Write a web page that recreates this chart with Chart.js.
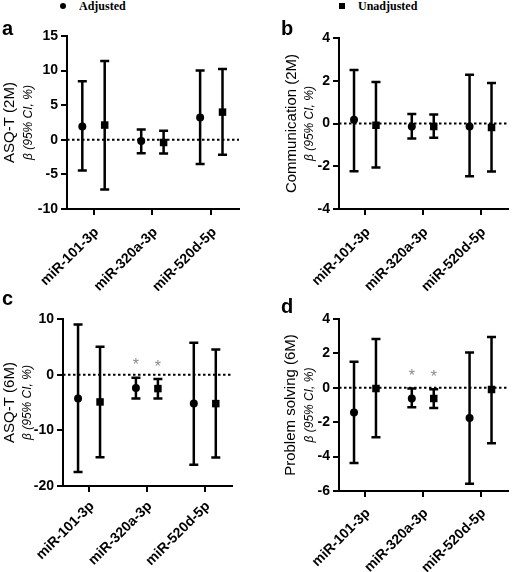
<html>
<head>
<script src="https://cdn.jsdelivr.net/npm/chart.js@4"></script>
<style>
  body { margin: 0; background: #fff; width: 513px; height: 572px; position: relative; overflow: hidden; }
  canvas { position: absolute; }
  .lab { position: absolute; font: bold 20px "Liberation Sans", Arial, sans-serif; line-height: 20px; }
  .leg { position: absolute; top: 0; font: bold 12px "Liberation Serif", "Times New Roman", serif; line-height: 12px; }
  .dot { position: absolute; width: 6px; height: 6px; background: #000; }
</style>
</head>
<body>
<div class="dot" style="left:60px;top:3px;border-radius:50%"></div>
<div class="leg" style="left:79px">Adjusted</div>
<div class="dot" style="left:339px;top:3px"></div>
<div class="leg" style="left:358px">Unadjusted</div>

<canvas id="pa" width="256" height="300" style="left:0;top:0"></canvas>
<canvas id="pb" width="257" height="300" style="left:256px;top:0"></canvas>
<canvas id="pc" width="256" height="282" style="left:0;top:290px"></canvas>
<canvas id="pd" width="257" height="282" style="left:256px;top:290px"></canvas>

<div class="lab" style="left:2px;top:18px">a</div>
<div class="lab" style="left:281px;top:18px">b</div>
<div class="lab" style="left:2px;top:288px">c</div>
<div class="lab" style="left:281px;top:296px">d</div>

<script>
// categories shared by all four panels
var categories = ['miR-101-3p', 'miR-320a-3p', 'miR-520d-5p'];

// a: ASQ-T (2M)
var aAdj = [1.93, -0.19, 3.24];
var aAdjLo = [-4.44, -1.93, -3.48];
var aAdjHi = [8.45, 1.5, 10.0];
var aUn = [2.13, -0.39, 4.0];
var aUnLo = [-7.2, -1.98, -2.17];
var aUnHi = [11.4, 1.3, 10.24];

// b: Communication (2M)
var bAdj = [0.17, -0.14, -0.14];
var bAdjLo = [-2.23, -0.7, -2.47];
var bAdjHi = [2.5, 0.45, 2.28];
var bUn = [-0.08, -0.14, -0.19];
var bUnLo = [-2.06, -0.67, -2.25];
var bUnHi = [1.94, 0.42, 1.89];

// c: ASQ-T (6M)
var cAdj = [-4.3, -2.4, -5.2];
var cAdjLo = [-17.5, -4.3, -16.2];
var cAdjHi = [9.0, -0.55, 5.75];
var cUn = [-4.9, -2.5, -5.2];
var cUnLo = [-14.85, -4.3, -14.9];
var cUnHi = [5.0, -0.8, 4.5];

// d: Problem solving (6M)
var dAdj = [-1.44, -0.62, -1.76];
var dAdjLo = [-4.37, -1.13, -5.58];
var dAdjHi = [1.52, -0.04, 2.05];
var dUn = [-0.04, -0.62, -0.1];
var dUnLo = [-2.87, -1.17, -3.22];
var dUnHi = [2.83, -0.08, 2.95];

// significant categories (marked with *)
var cStars = [false, true, false];
var dStars = [false, true, false];

var FONT = '"Liberation Sans", Arial, sans-serif';
Chart.defaults.font.family = FONT;
Chart.defaults.color = '#000';

var errorBars = {
  id: 'errorBars',
  beforeDatasetsDraw: function (chart) {
    var ctx = chart.ctx, area = chart.chartArea, x = chart.scales.x, y = chart.scales.y;
    ctx.save();
    ctx.strokeStyle = '#000';
    // dotted zero line
    var y0 = y.getPixelForValue(0);
    ctx.lineWidth = 2;
    ctx.setLineDash([2.5, 2.5]);
    ctx.beginPath();
    ctx.moveTo(area.left, y0);
    ctx.lineTo(area.right, y0);
    ctx.stroke();
    ctx.setLineDash([]);
    ctx.lineWidth = 2.5;
    chart.data.datasets.forEach(function (ds) {
      ds.data.forEach(function (p) {
        var px = x.getPixelForValue(p.x);
        var lo = y.getPixelForValue(p.lo), hi = y.getPixelForValue(p.hi);
        ctx.beginPath();
        ctx.moveTo(px, lo); ctx.lineTo(px, hi);
        ctx.moveTo(px - 4.5, lo); ctx.lineTo(px + 4.5, lo);
        ctx.moveTo(px - 4.5, hi); ctx.lineTo(px + 4.5, hi);
        ctx.stroke();
        if (p.star) {
          ctx.fillStyle = '#8a8a8a';
          ctx.font = '16px ' + FONT;
          ctx.textAlign = 'center';
          ctx.textBaseline = 'middle';
          ctx.fillText('*', px, hi - 12);
        }
      });
    });
    ctx.restore();
  },
  afterDraw: function (chart, args, opts) {
    var ctx = chart.ctx, area = chart.chartArea;
    var cy = (area.top + area.bottom) / 2;
    ctx.save();
    ctx.fillStyle = '#000';
    ctx.textAlign = 'center';
    ctx.textBaseline = 'middle';
    ctx.translate(opts.x1, cy);
    ctx.rotate(-Math.PI / 2);
    ctx.font = '15px ' + FONT;
    ctx.fillText(opts.title, 0, 0);
    ctx.restore();
    ctx.save();
    ctx.fillStyle = '#000';
    ctx.textAlign = 'center';
    ctx.textBaseline = 'middle';
    ctx.translate(opts.x2, cy);
    ctx.rotate(-Math.PI / 2);
    ctx.font = 'italic 12px ' + FONT;
    ctx.fillText('\u03B2 (95% CI, %)', 0, 0);
    ctx.restore();
  }
};

function points(vals, lo, hi, shift, stars) {
  return vals.map(function (v, i) {
    return { x: i + 1 + shift, y: v, lo: lo[i], hi: hi[i], star: stars ? stars[i] : false };
  });
}

function makePanel(id, p) {
  var ctx = document.getElementById(id).getContext('2d');
  return new Chart(ctx, {
    type: 'scatter',
    data: {
      datasets: [
        { label: 'Adjusted', data: points(p.adj, p.adjLo, p.adjHi, -0.19, p.stars),
          pointStyle: 'circle', pointRadius: 4, backgroundColor: '#000', borderColor: '#000', borderWidth: 0 },
        { label: 'Unadjusted', data: points(p.un, p.unLo, p.unHi, 0.19, p.stars),
          pointStyle: 'rect', pointRadius: 5.3, backgroundColor: '#000', borderColor: '#000', borderWidth: 0 }
      ]
    },
    options: {
      responsive: false,
      animation: false,
      events: [],
      layout: { padding: { top: p.top, right: p.right, left: 0, bottom: 0 } },
      plugins: {
        legend: { display: false },
        tooltip: { enabled: false },
        errorBars: { title: p.title, x1: p.x1, x2: p.x2 }
      },
      scales: {
        x: {
          type: 'linear', min: 0.55, max: 3.47,
          afterBuildTicks: function (s) { s.ticks = categories.map(function (c, i) { return { value: i + 1 }; }); },
          afterFit: function (s) { s.height = p.xh; },
          grid: { display: true, drawOnChartArea: false, color: '#000', lineWidth: 2, tickLength: 6 },
          border: { display: true, color: '#000', width: 2 },
          ticks: {
            autoSkip: false, maxRotation: 45, minRotation: 45, padding: p.xpad, labelOffset: 3,
            font: { size: 14, weight: 'bold' },
            callback: function (v) { return categories[v - 1]; }
          }
        },
        y: {
          min: p.min, max: p.max,
          afterFit: function (s) { s.width = p.yw; },
          grid: { display: true, drawOnChartArea: false, color: '#000', lineWidth: 2, tickLength: 6 },
          border: { display: true, color: '#000', width: 2 },
          ticks: { stepSize: p.step, padding: 3, font: { size: 14, weight: 'bold' } }
        }
      }
    },
    plugins: [errorBars]
  });
}

makePanel('pa', { adj: aAdj, adjLo: aAdjLo, adjHi: aAdjHi, un: aUn, unLo: aUnLo, unHi: aUnHi,
  min: -10, max: 15, step: 5, top: 36, right: 17, yw: 67, xh: 91, xpad: 9,
  title: 'ASQ-T (2M)', x1: 10, x2: 29 });
makePanel('pb', { adj: bAdj, adjLo: bAdjLo, adjHi: bAdjHi, un: bUn, unLo: bUnLo, unHi: bUnHi,
  min: -4, max: 4, step: 2, top: 38, right: 0, yw: 83, xh: 91, xpad: 9,
  title: 'Communication (2M)', x1: 36, x2: 54 });
makePanel('pc', { adj: cAdj, adjLo: cAdjLo, adjHi: cAdjHi, un: cUn, unLo: cUnLo, unHi: cUnHi, stars: cStars,
  min: -20, max: 10, step: 10, top: 29, right: 24, yw: 63, xh: 86, xpad: 6,
  title: 'ASQ-T (6M)', x1: 10, x2: 28 });
makePanel('pd', { adj: dAdj, adjLo: dAdjLo, adjHi: dAdjHi, un: dUn, unLo: dUnLo, unHi: dUnHi, stars: dStars,
  min: -6, max: 4, step: 2, top: 29, right: 0, yw: 83, xh: 81, xpad: 8,
  title: 'Problem solving (6M)', x1: 35, x2: 54 });
</script>
</body>
</html>
